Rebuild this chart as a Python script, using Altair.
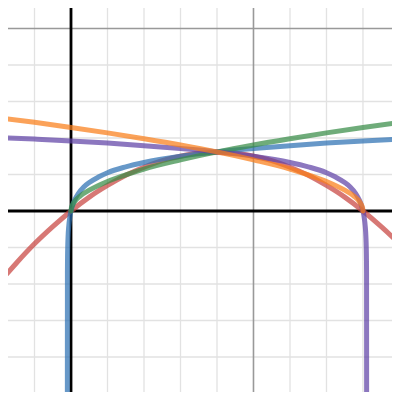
import altair as alt
import pandas as pd

# Visible window
X_DOMAIN = [-1.726, 8.795]
Y_DOMAIN = [-4.959, 5.562]

# Grid lines
minor_x = [-1, 1, 2, 3, 4, 6, 7, 8, 9]
major_x = [5]
minor_y = [-4, -3, -2, -1, 1, 2, 3, 4]
major_y = [-5, 5]
axis_x = [0]
axis_y = [0]

# Curves
red_x = [-2.1, -1.5, -1, -0.5, 0, 0.5, 1, 1.5, 2, 2.5, 3, 3.5, 4, 4.5, 5, 5.5, 6, 6.5, 7, 7.5, 8, 8.5, 9, 9.1]
red_y = [-2.12, -1.43, -0.9, -0.43, 0, 0.38, 0.7, 0.98, 1.2, 1.38, 1.5, 1.58, 1.6, 1.58, 1.5, 1.38, 1.2, 0.98, 0.7, 0.38, 0, -0.43, -0.9, -1.0]

blue_x = [-0.1, -0.098, -0.095, -0.09, -0.08, -0.06, -0.03, 0, 0.05, 0.1, 0.2, 0.35, 0.5, 0.75, 1, 1.5, 2, 3, 4, 5, 6, 7, 8, 9.1]
blue_y = [-5.5, -1.71, -1.31, -1.0, -0.7, -0.4, -0.16, 0, 0.18, 0.3, 0.48, 0.66, 0.78, 0.93, 1.05, 1.21, 1.33, 1.5, 1.62, 1.71, 1.79, 1.86, 1.92, 1.97]

green_x = [0, 0.01, 0.05, 0.1, 0.25, 0.5, 1, 1.5, 2, 3, 4, 5, 6, 7, 8, 9.1]
green_y = [0, 0.08, 0.18, 0.26, 0.41, 0.57, 0.81, 0.99, 1.15, 1.4, 1.62, 1.81, 1.98, 2.14, 2.29, 2.44]

purple_x = [-2.1, -1, 0, 1, 2, 3, 4, 5, 6, 6.5, 7, 7.25, 7.5, 7.65, 7.8, 7.9, 7.95, 8, 8.03, 8.06, 8.08, 8.09, 8.095, 8.098, 8.1]
purple_y = [2.02, 1.97, 1.92, 1.86, 1.79, 1.71, 1.62, 1.5, 1.33, 1.21, 1.05, 0.93, 0.78, 0.66, 0.48, 0.3, 0.18, 0, -0.16, -0.4, -0.7, -1.0, -1.31, -1.71, -5.5]

orange_x = [-2.1, -1, 0, 1, 2, 3, 4, 5, 6, 6.5, 7, 7.5, 7.75, 7.9, 7.95, 7.99, 8]
orange_y = [2.57, 2.43, 2.29, 2.14, 1.98, 1.81, 1.62, 1.4, 1.15, 0.99, 0.81, 0.57, 0.41, 0.26, 0.18, 0.08, 0]

xs = alt.Scale(domain=X_DOMAIN, nice=False, zero=False)
ys = alt.Scale(domain=Y_DOMAIN, nice=False, zero=False)


def vrules(vals, color, width):
    return alt.Chart(pd.DataFrame({"x": vals})).mark_rule(
        color=color, strokeWidth=width, clip=True
    ).encode(x=alt.X("x:Q", scale=xs, axis=None))


def hrules(vals, color, width):
    return alt.Chart(pd.DataFrame({"y": vals})).mark_rule(
        color=color, strokeWidth=width, clip=True
    ).encode(y=alt.Y("y:Q", scale=ys, axis=None))


def curve(xv, yv, color):
    return alt.Chart(pd.DataFrame({"x": xv, "y": yv})).mark_line(
        color=color, strokeWidth=5, opacity=0.72, interpolate="monotone",
        clip=True, strokeCap="round", strokeJoin="round"
    ).encode(
        x=alt.X("x:Q", scale=xs, axis=None),
        y=alt.Y("y:Q", scale=ys, axis=None),
        order=alt.Order("x:Q"),
    )


chart = alt.layer(
    vrules(minor_x, "#e2e2e2", 1.3),
    hrules(minor_y, "#e2e2e2", 1.3),
    vrules(major_x, "#999999", 1.6),
    hrules(major_y, "#999999", 1.6),
    vrules(axis_x, "#000000", 2.8),
    hrules(axis_y, "#000000", 2.8),
    curve(red_x, red_y, "#c74440"),
    curve(blue_x, blue_y, "#2d70b3"),
    curve(green_x, green_y, "#388c46"),
    curve(purple_x, purple_y, "#6042a6"),
    curve(orange_x, orange_y, "#fa7e19"),
).properties(
    width=384, height=384, padding=0, autosize=alt.AutoSizeParams(type="none")
).configure_view(stroke=None)

chart.save("out.html", embed_options={"renderer": "svg", "actions": False})
